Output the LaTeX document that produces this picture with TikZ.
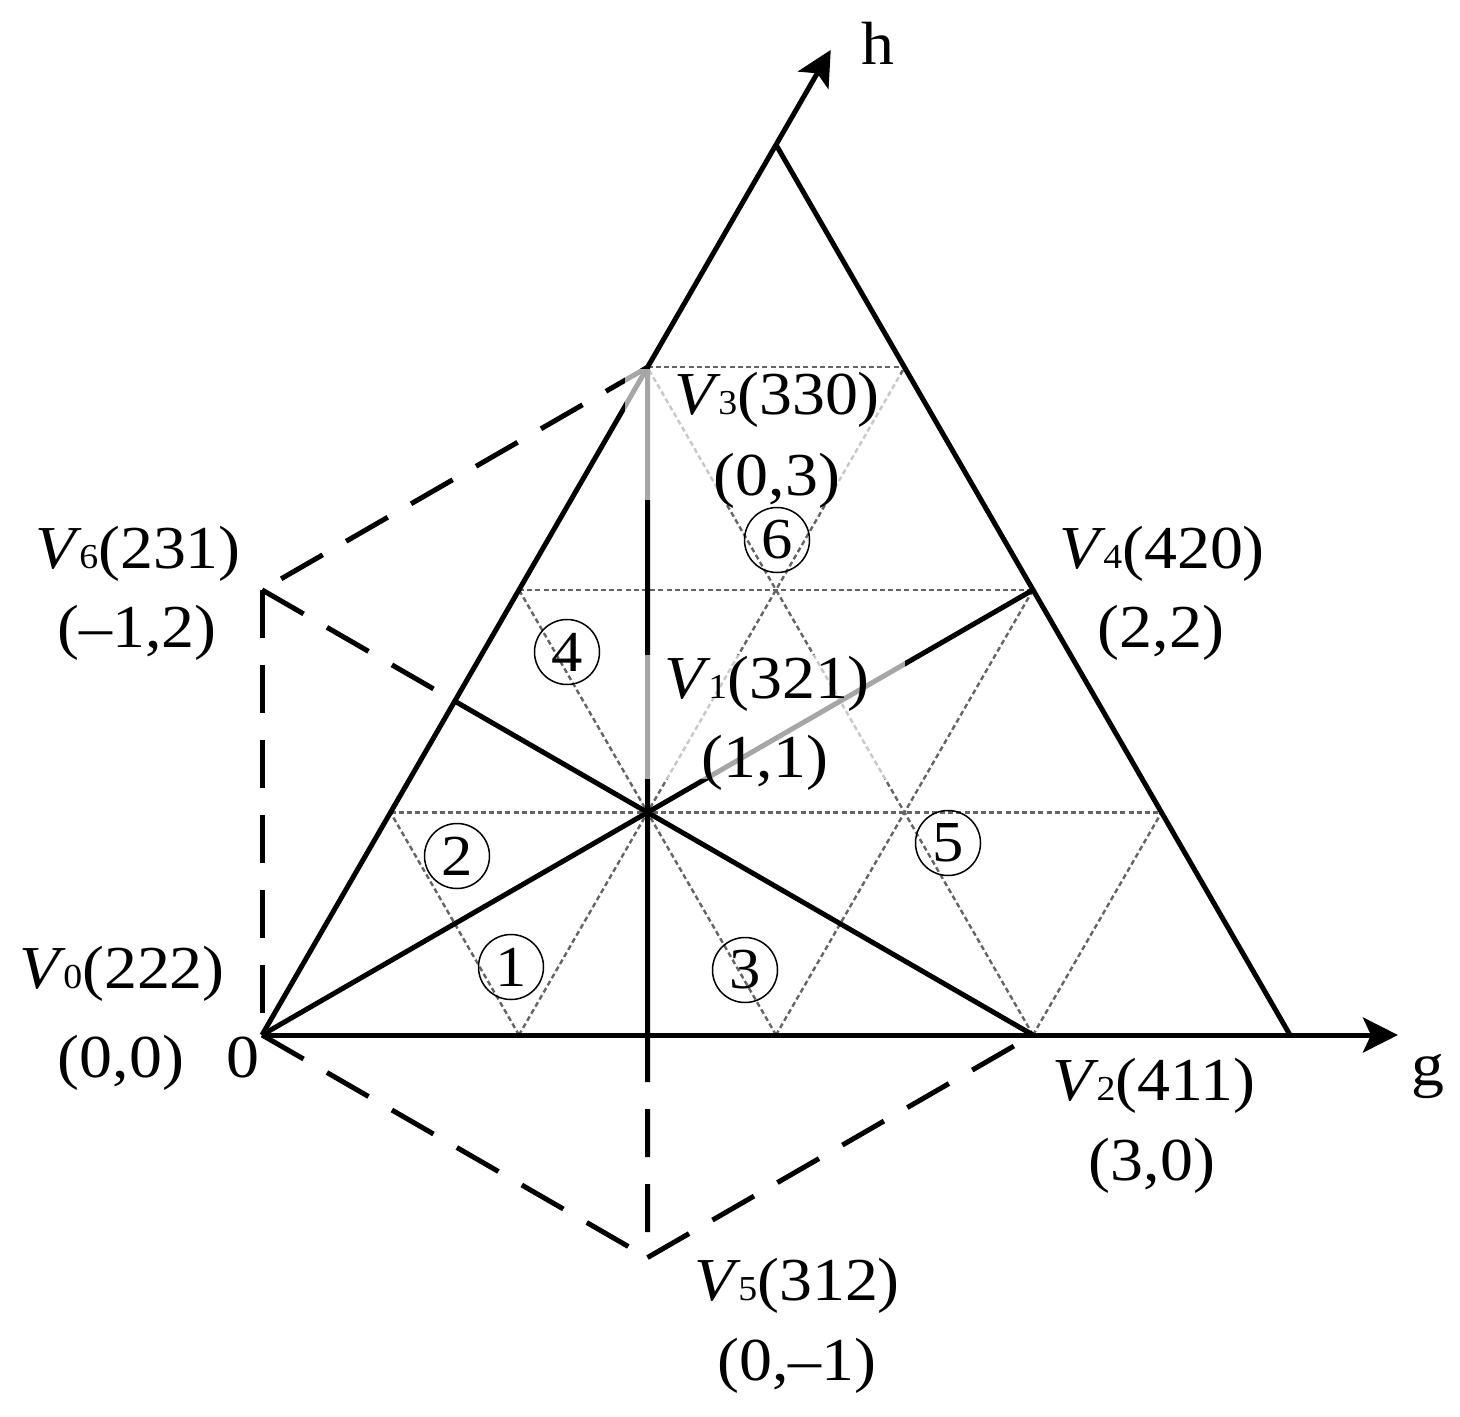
\documentclass[tikz,border=0pt]{standalone}
\usepackage{fontspec}
\setmainfont[FakeStretch=1.08]{Liberation Serif}
\usetikzlibrary{arrows.meta,calc}

\newcommand\Vlab[2]{\textit{V}\kern-0.04em{\fontsize{17.5}{17.5}\selectfont #1}(#2)}

\begin{document}
\begin{tikzpicture}[x=0.5pt,y=-0.5pt, font=\fontsize{30.5}{40}\selectfont,
  solidline/.style={line width=2.5pt},
  dashline/.style={line width=2.5pt, dash pattern=on 24pt off 13.5pt},
  gridline/.style={line width=1.2pt, draw={rgb,255:red,100;green,100;blue,100}, dash pattern=on 2.5pt off 1.6pt},
  num/.style={circle, draw, line width=0.75pt, minimum size=32.5pt, inner sep=0pt, font=\fontsize{29}{29}\selectfont},
  lab/.style={anchor=base, inner sep=0pt},
  veil/.style={fill=white, fill opacity=0.65},
  axisarrow/.style={-{Stealth[length=17.5pt, width=17.5pt, inset=4pt]}}]
\fill[white] (0,0) rectangle (1460,1417);
\useasboundingbox (0,0) rectangle (1460,1417);

\begin{scope}[shift={(262,1035)}, x={(128.5pt,0pt)}, y={(64.25pt,111.285pt)}]
  \coordinate (O) at (0,0);
  \coordinate (V1) at (1,1);
  \coordinate (V2) at (3,0);
  \coordinate (V3) at (0,3);
  \coordinate (V4) at (2,2);
  \coordinate (V5) at (2,-1);
  \coordinate (V6) at (-1,2);
  \coordinate (T) at (4,0);
  \coordinate (A) at (0,4);
  \coordinate (X) at (0,1.5);
  \coordinate (gE) at (4.42,0);
  \coordinate (hE) at (0,4.426);
  \foreach \k in {1,2,3} {
    \draw[gridline] (0,\k) -- ({4-\k},\k);
    \draw[gridline] (\k,0) -- (\k,{4-\k});
    \draw[gridline] (\k,0) -- (0,\k);
  }
\end{scope}
\coordinate (Vb) at ($(V3)!0.803!(V5)$);

% solid lines
\draw[solidline,axisarrow] (O) -- (gE);
\draw[solidline,axisarrow] (O) -- (hE);
\draw[solidline] (T) -- (A);
\draw[solidline] (O) -- (V4);
\draw[solidline] (X) -- (V2);
\draw[solidline] (V3) -- (Vb);

% dashed lines
\draw[dashline] (V3) -- (V6);
\draw[dashline] (V6) -- (O);
\draw[dashline] (V6) -- (X);
\draw[dashline] (O) -- (V5);
\draw[dashline] (V5) -- (V2);
\draw[dashline, dash phase=24pt] (Vb) -- (V5);

% veils under labels
\fill[veil] (625,369) rectangle (900,500);
\fill[veil] (640,655) rectangle (905,779);

% labels
\node[lab] (l3a) at (777,415) {\Vlab{3}{330}};
\node[lab] (l3b) at (777,495) {(0,3)};
\node[lab] (l1a) at (767,698) {\Vlab{1}{321}};
\node[lab] (l1b) at (765,777) {(1,1)};
\node[lab] (l4a) at (1162,568) {\Vlab{4}{420}};
\node[lab] (l4b) at (1161,647) {(2,2)};
\node[lab] (l6a) at (138,568) {\Vlab{6}{231}};
\node[lab] (l6b) at (137,647) {(\textendash1,2)};
\node[lab] (l0a) at (122,988) {\Vlab{0}{222}};
\node[lab] (l0b) at (121,1077) {(0,0)};
\node[lab] (l2a) at (1154,1100) {\Vlab{2}{411}};
\node[lab] (l2b) at (1152,1180) {(3,0)};
\node[lab] (l5a) at (797,1300) {\Vlab{5}{312}};
\node[lab] (l5b) at (797,1380) {(0,\textendash1)};
\node[lab] (zero) at (243,1077) {0};
\node[lab] (hlab) at (878,65) {h};
\node[lab] (glab) at (1428,1085) {g};

% circled numbers
\node[num] (n1) at (511,967) {1};
\node[num] (n2) at (457,856) {2};
\node[num] (n3) at (745,970) {3};
\node[num] (n4) at (567,652) {4};
\node[num] (n5) at (948,843) {5};
\node[num] (n6) at (777,540) {6};
\end{tikzpicture}
\end{document}
